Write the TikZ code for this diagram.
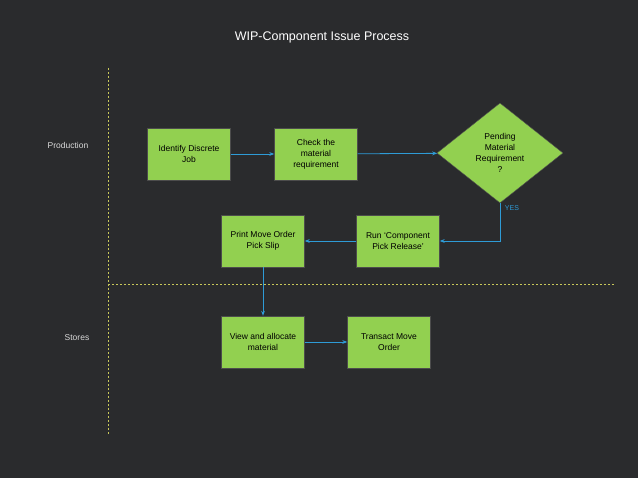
\documentclass[tikz,border=0pt]{standalone}
\usepackage{fontspec}
\setmainfont{Liberation Sans}
\usetikzlibrary{shapes.geometric,arrows.meta}
\definecolor{bg}{HTML}{2A2B2D}
\definecolor{gr}{HTML}{92D050}
\definecolor{ar}{HTML}{2E9BD6}
\definecolor{ln}{HTML}{C8C85A}
\begin{document}
\begin{tikzpicture}[x=1pt,y=-1pt,
 box/.style={draw=black!70,fill=gr,minimum width=83pt,minimum height=52pt,align=center,font=\fontsize{8.5}{11}\selectfont},
 arr/.style={draw=ar,line width=0.8pt,-{Stealth[length=5pt]}},
 lane/.style={draw=ln,dash pattern=on 2pt off 2pt,line width=0.6pt},
 lbl/.style={text=white!85!black,font=\fontsize{8.5}{10}\selectfont}]
\fill[bg] (0,0) rectangle (638,478);
\useasboundingbox (0,0) rectangle (638,478);
\node[text=white,font=\fontsize{12.5}{14}\selectfont] (title) at (322,37) {WIP-Component Issue Process};
\coordinate (v1) at (108,68); \coordinate (v2) at (108,435);
\coordinate (h1) at (108,284); \coordinate (h2) at (615,284);
\draw[lane] (v1) -- (v2);
\draw[lane] (h1) -- (h2);
\node[lbl] (prod) at (68,145) {Production};
\node[lbl] (stores) at (77,338) {Stores};
\node[box] (a) at (189,154) {Identify Discrete\\Job};
\node[box] (b) at (316,154) {Check the\\material\\requirement};
\node[diamond,draw=black!70,fill=gr,minimum width=126pt,minimum height=100pt,align=center,inner sep=0pt,font=\fontsize{8.5}{11}\selectfont] (d) at (500,153) {Pending\\Material\\Requirement\\?};
\node[box] (c) at (398,241) {Run ‘Component\\Pick Release’};
\node[box] (e) at (263,241) {Print Move Order\\Pick Slip};
\node[box] (f) at (263,342) {View and allocate\\material};
\node[box] (g) at (389,342) {Transact Move\\Order};
\draw[arr] (a) -- (b);
\draw[arr] (b) -- (d);
\draw[arr] (d.south) -- (d.south |- c.east) -- (c.east);
\node[text=ar,font=\fontsize{7}{8}\selectfont] (yes) at (512,208) {YES};
\draw[arr] (c) -- (e);
\draw[arr] (e) -- (f);
\draw[arr] (f) -- (g);
\end{tikzpicture}
\end{document}
